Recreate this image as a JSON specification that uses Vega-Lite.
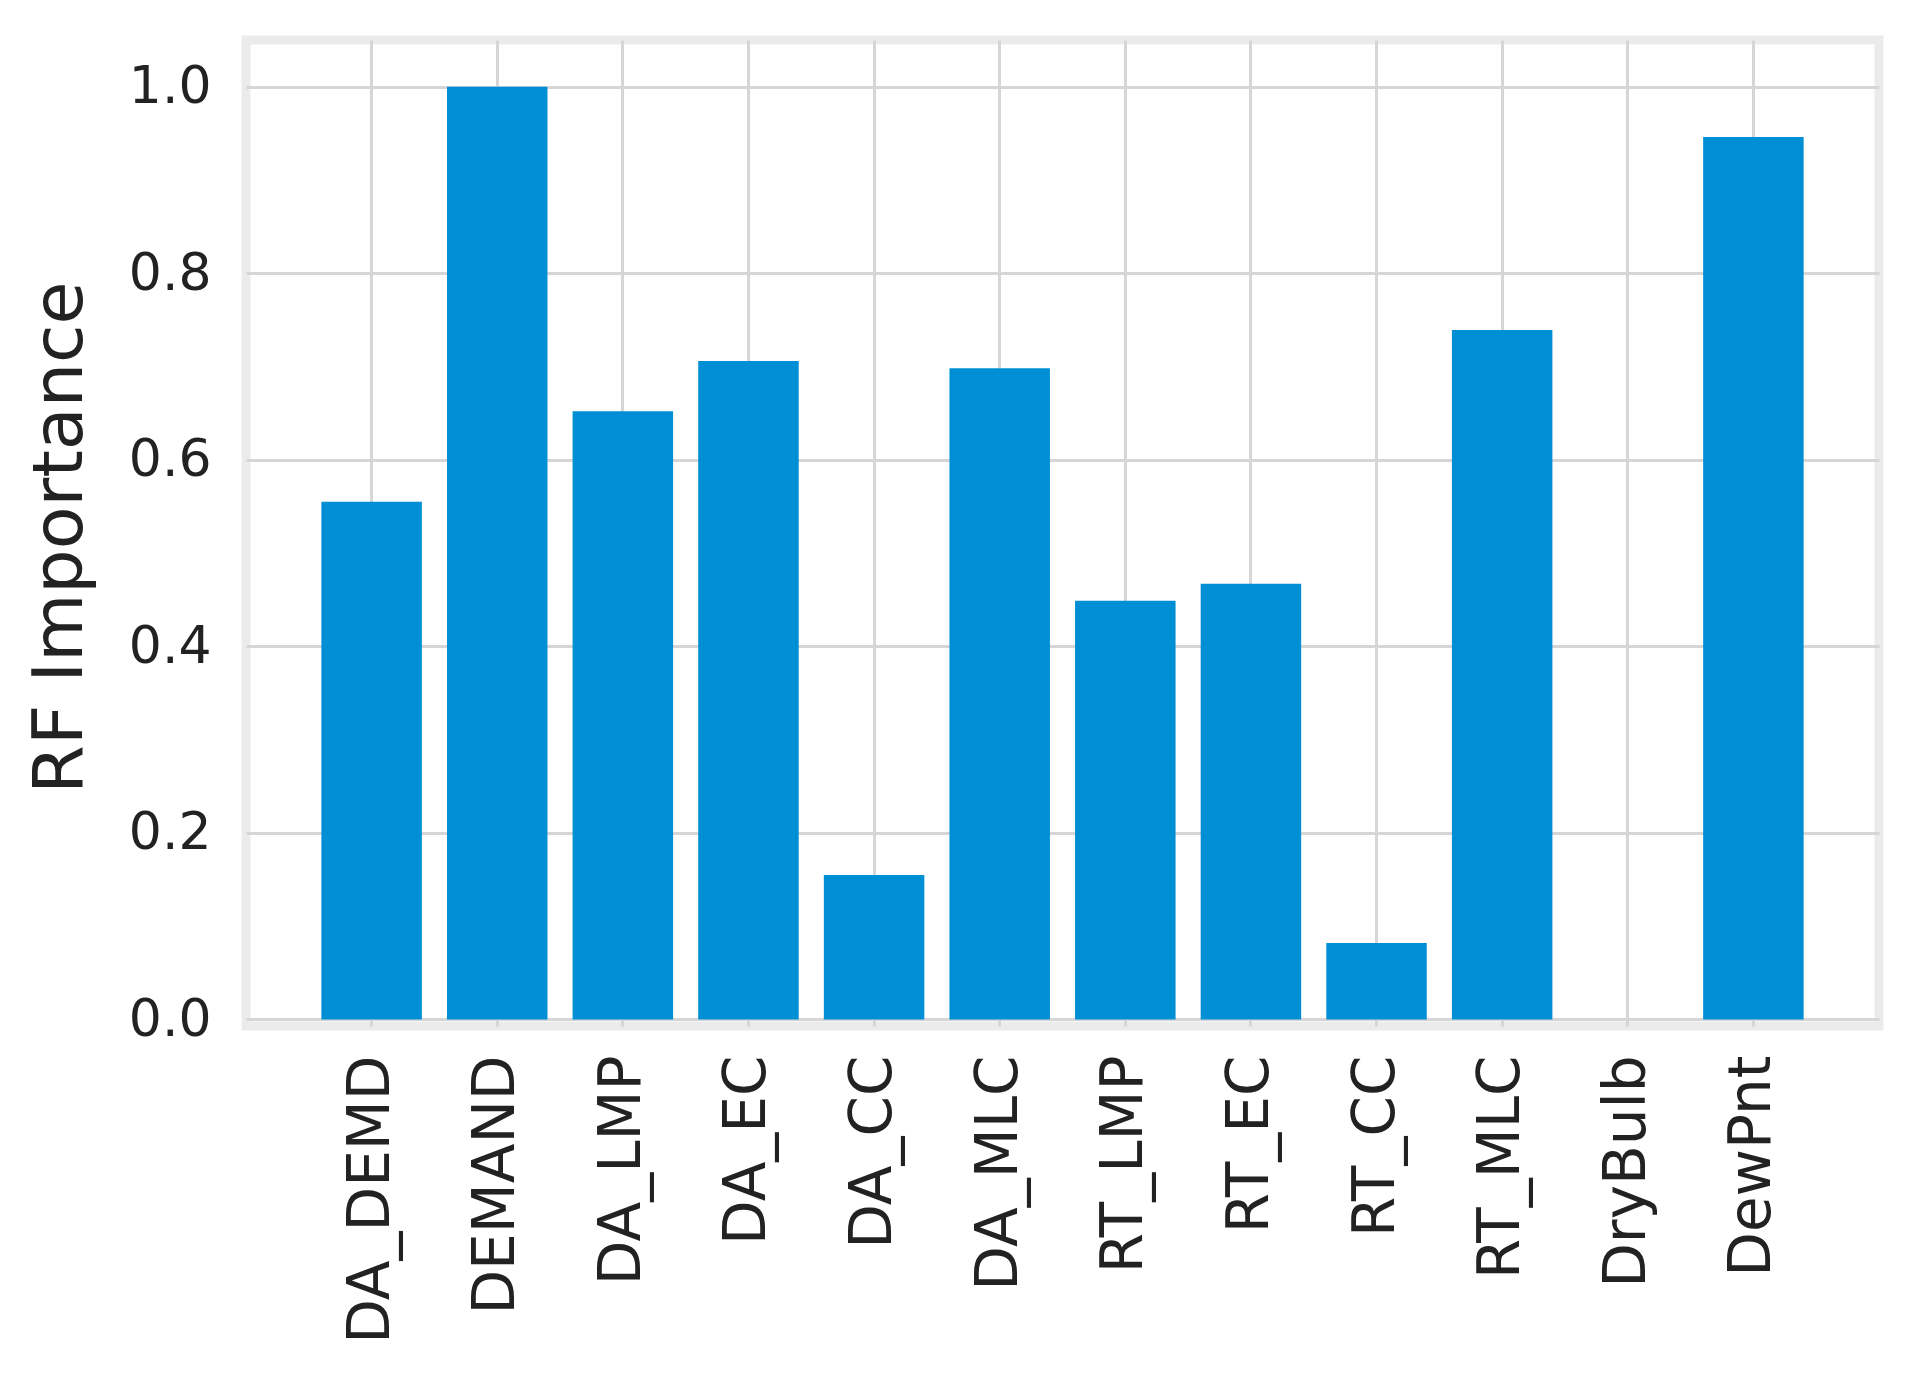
{
  "$schema": "https://vega.github.io/schema/vega-lite/v6.json",
  "width": 1633,
  "height": 986,
  "autosize": {"type": "none"},
  "padding": {"left": 246, "top": 40, "right": 45, "bottom": 356},
  "background": "white",
  "config": {
    "font": "DejaVu Sans",
    "view": {"stroke": "#ebebeb", "strokeWidth": 9},
    "axis": {"domain": false, "ticks": false, "gridColor": "#d6d6d6", "gridWidth": 3, "labelColor": "#222222", "titleColor": "#222222", "labelFont": "DejaVu Sans", "titleFont": "DejaVu Sans", "labelLimit": 0}
  },
  "data": {
    "values": [
      {"feature": "DA_DEMD", "importance": 0.555},
      {"feature": "DEMAND", "importance": 1.0},
      {"feature": "DA_LMP", "importance": 0.652},
      {"feature": "DA_EC", "importance": 0.706},
      {"feature": "DA_CC", "importance": 0.155},
      {"feature": "DA_MLC", "importance": 0.698},
      {"feature": "RT_LMP", "importance": 0.449},
      {"feature": "RT_EC", "importance": 0.467},
      {"feature": "RT_CC", "importance": 0.082},
      {"feature": "RT_MLC", "importance": 0.739},
      {"feature": "DryBulb", "importance": 0.0},
      {"feature": "DewPnt", "importance": 0.946}
    ]
  },
  "mark": {"type": "bar", "color": "#008fd5"},
  "encoding": {
    "x": {
      "field": "feature",
      "type": "nominal",
      "sort": null,
      "scale": {"paddingInner": 0.2, "paddingOuter": 0.6},
      "axis": {"title": null, "labelAngle": -90, "labelFontSize": 58, "labelPadding": 29, "labelLimit": 0, "grid": true}
    },
    "y": {
      "field": "importance",
      "type": "quantitative",
      "scale": {"domain": [-0.007, 1.05], "nice": false, "zero": false},
      "axis": {
        "title": "RF Importance",
        "values": [0, 0.2, 0.4, 0.6, 0.8, 1.0],
        "format": ".1f",
        "labelFontSize": 52,
        "labelPadding": 35,
        "titleFontSize": 70,
        "titleFontWeight": "normal",
        "titleX": -150,
        "titleY": 497,
        "titleAlign": "center",
        "titleBaseline": "bottom",
        "titleAngle": 270,
        "grid": true
      }
    }
  }
}
